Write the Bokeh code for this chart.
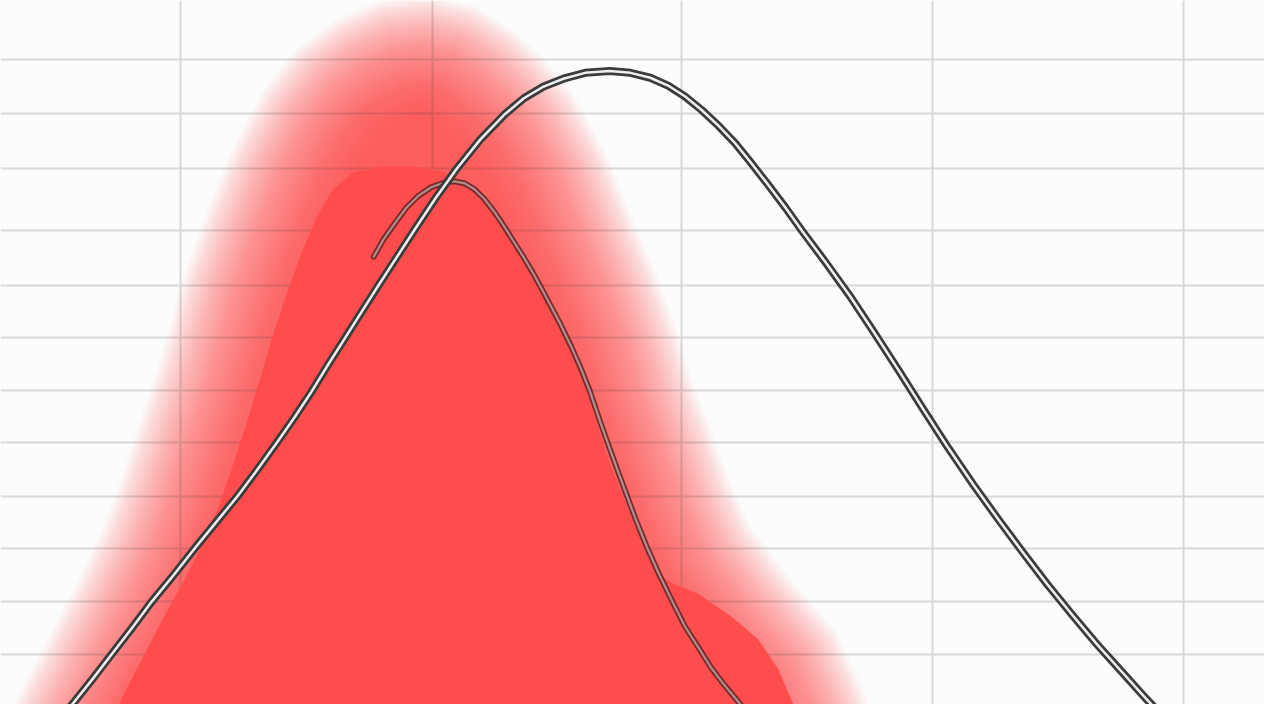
import numpy as np
from bokeh.plotting import figure
from bokeh.models import Range1d, FixedTicker
from bokeh.embed import file_html
from bokeh.resources import INLINE

# ---- data (pixel-like units, y grows downward) ----
col_x = [182, 437, 690, 944, 1198]
row_y = [60, 116, 172, 235, 291, 345, 399, 452, 507, 560, 615, 669]

# solid red blob outline
solid_x = [118, 122, 140, 163, 185, 205, 222, 237, 250, 262, 275, 290, 305, 320, 337, 357, 385, 420, 448,
           470, 487, 499, 511, 524, 537, 551, 564, 577, 588, 600, 614, 640, 664, 680, 707, 740, 767, 787, 803, 806]
solid_y = [740, 715, 680, 635, 595, 555, 515, 470, 430, 390, 345, 300, 258, 222, 193, 176, 170, 170, 175,
           186, 198, 212, 230, 253, 278, 303, 328, 354, 378, 418, 465, 531, 585, 596, 607, 630, 653, 683, 720, 740]

# soft red glow outline (outer reference contour)
glow_x = [40, 60, 86, 114, 140, 160, 178, 195, 211, 226, 246, 271, 300, 330, 362, 396, 430, 464, 494, 520,
          545, 575, 600, 624, 644, 660, 680, 700, 724, 765, 812, 835, 850, 850, 40]
glow_y = [760, 720, 669, 615, 560, 507, 452, 400, 345, 291, 235, 172, 116, 78, 55, 40, 36, 44, 64, 88,
          118, 172, 235, 291, 345, 400, 452, 507, 560, 615, 669, 720, 760, 820, 820]

# wide bell curve
wide_x = [60, 75, 94, 113, 133, 153, 175, 197, 218, 240, 260, 280, 298, 315, 332, 349, 366, 383, 401, 419,
          440, 462, 486, 511, 530, 550, 570, 592, 617, 638, 658, 676, 693, 710, 727, 744, 760, 777, 795, 812,
          835, 860, 885, 910, 935, 960, 985, 1010, 1035, 1060, 1085, 1110, 1135, 1160, 1180]
wide_y = [735, 717, 693, 668, 642, 615, 588, 560, 534, 507, 480, 452, 426, 400, 372, 345, 318, 291, 263, 235,
          203, 172, 142, 116, 100, 88, 80, 74, 72, 74, 79, 87, 98, 112, 128, 146, 166, 188, 212, 236,
          267, 302, 340, 379, 419, 458, 495, 530, 564, 597, 628, 658, 686, 714, 735]

# narrow bell curve
narrow_x = [378, 388, 400, 411, 423, 436, 450, 460, 470, 480, 490, 500, 510, 520, 530, 540, 547, 557, 567,
            578, 588, 597, 608, 620, 632, 643, 655, 667, 680, 693, 707, 720, 733, 747, 757]
narrow_y = [262, 244, 227, 212, 200, 191, 186, 185, 187, 193, 203, 216, 231, 247, 263, 280, 293, 312, 331,
            354, 377, 400, 433, 467, 500, 530, 560, 587, 614, 640, 662, 683, 700, 717, 730]

RED = "#ff4d4d"


def offset(xs, ys, d):
    x = np.asarray(xs, float)
    y = np.asarray(ys, float)
    xp, xm = np.roll(x, -1), np.roll(x, 1)
    yp, ym = np.roll(y, -1), np.roll(y, 1)
    tx, ty = xp - xm, yp - ym
    n = np.hypot(tx, ty)
    n[n == 0] = 1
    nx, ny = ty / n, -tx / n
    area = 0.5 * np.sum(x * yp - xp * y)
    s = 1.0 if area > 0 else -1.0
    return list(x + s * d * nx), list(y + s * d * ny)


p = figure(width=1264, height=704, x_range=Range1d(0, 1280), y_range=Range1d(720, 0),
           output_backend="svg", toolbar_location=None, min_border=0)
p.axis.visible = False
p.outline_line_color = None
p.background_fill_color = "#fcfcfc"
p.border_fill_color = "#fcfcfc"
p.xgrid.ticker = FixedTicker(ticks=col_x)
p.ygrid.ticker = FixedTicker(ticks=row_y)
p.grid.grid_line_color = "#d8d8d8"
p.grid.grid_line_width = 2

# glow: nested offset layers (soft edge)
for d in range(-78, 44, 2):
    gx, gy = offset(glow_x, glow_y, d)
    p.patch(gx, gy, fill_color=RED, fill_alpha=0.026, line_color=None)

# solid blob
p.patch(solid_x, solid_y, fill_color=RED, fill_alpha=1.0, line_color=None)

# narrow curve (double line)
p.line(narrow_x, narrow_y, line_color="#5a2222", line_alpha=0.85, line_width=5.8,
       line_cap="round", line_join="round")
p.line(narrow_x, narrow_y, line_color="#ffffff", line_alpha=0.45, line_width=2.3,
       line_cap="round", line_join="round")

# wide curve (double line)
p.line(wide_x, wide_y, line_color="#3c3c3c", line_width=8, line_cap="round", line_join="round")
p.line(wide_x, wide_y, line_color="#ffffff", line_alpha=0.92, line_width=2.5,
       line_cap="round", line_join="round")

open("out.html", "w").write(file_html(p, INLINE))
